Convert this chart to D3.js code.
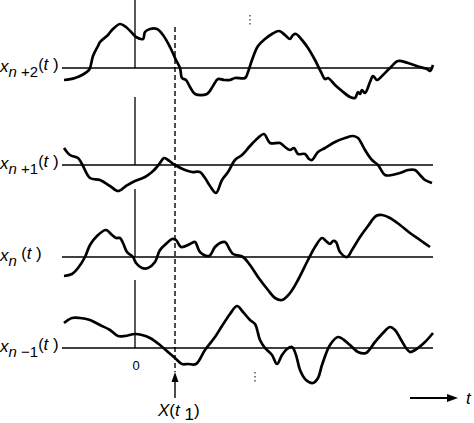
<!DOCTYPE html>
<html><head><meta charset="utf-8">
<script src="https://cdn.jsdelivr.net/npm/d3@7"></script>
<style>body{margin:0;background:#fff}</style></head>
<body><svg width="474" height="423"></svg>
<script>
// series: [t, value] (t in time units, value = amplitude)
const s_np2=[[64,-12],[75,-10],[88,-3],[90,0],[93,12],[98,22],[100,26],[108,33],[112,38],[120,44],[126,41],[133,34],[136,31],[143,29],[145,36],[150,39],[157,39],[163,33],[170,21],[176,8],[180,0],[182,-10],[186,-12],[190,-19],[195,-26],[207,-26],[213,-18],[218,-11],[224,-12],[230,-12],[235,-10],[245,-10],[248,-4],[252,8],[258,22],[265,29],[272,34],[279,37],[285,33],[290,29],[293,33],[296,34],[302,28],[308,20],[315,8],[321,-4],[325,-11],[328,-10],[335,-17],[342,-23],[350,-29],[355,-30],[358,-24],[360,-26],[362,-22],[365,-25],[370,-14],[373,-8],[377,-12],[382,-8],[390,0],[398,7],[408,5],[420,1],[427,-1],[430,-3],[433,3]];
const s_np1=[[64,17],[70,10],[78,7],[82,1],[90,-13],[100,-15],[110,-21],[118,-26],[126,-21],[135,-16],[145,-12],[152,-7],[156,-3],[160,2],[164,7],[168,5],[175,0],[185,-5],[192,-7],[200,-7],[205,-13],[210,-21],[216,-28],[222,-15],[228,-7],[235,5],[242,10],[250,19],[258,27],[264,31],[270,22],[280,22],[285,18],[290,15],[294,17],[298,11],[305,11],[309,6],[312,5],[318,13],[325,17],[335,23],[345,27],[353,29],[358,27],[365,15],[372,5],[378,0],[385,-10],[392,-10],[400,-8],[408,-5],[415,-5],[420,-10],[425,-15],[432,-18]];
const s_n=[[64,-19],[72,-17],[78,-11],[85,0],[90,12],[97,21],[106,27],[112,22],[116,19],[120,19],[123,14],[127,5],[133,0],[136,-6],[142,-11],[148,-11],[155,-5],[160,7],[167,14],[172,18],[176,17],[181,10],[190,13],[195,15],[200,5],[209,1],[215,10],[220,14],[225,15],[230,7],[233,3],[243,0],[250,-8],[258,-20],[268,-33],[275,-41],[282,-43],[290,-36],[298,-23],[308,-3],[315,10],[322,19],[326,16],[330,13],[333,16],[336,15],[340,5],[347,0],[352,7],[360,20],[368,31],[376,41],[382,42],[390,39],[400,32],[410,24],[420,17],[430,10]];
const s_nm1=[[64,25],[72,30],[80,30],[90,28],[100,23],[110,18],[118,12],[125,12],[135,14],[142,13],[150,10],[160,3],[168,-4],[175,-10],[182,-16],[188,-16],[196,-16],[205,-2],[215,11],[222,22],[230,34],[237,42],[243,36],[250,28],[255,24],[260,8],[265,0],[272,-7],[277,-16],[282,-7],[287,-1],[292,1],[296,-7],[300,-22],[306,-32],[313,-35],[318,-30],[322,-17],[330,3],[338,11],[344,8],[350,3],[358,-4],[366,-5],[375,6],[383,15],[390,21],[395,18],[400,10],[406,0],[410,-4],[415,-2],[425,6],[433,15]];
const subs=[" +2"," +1",""," −1"];
const baselines=[68,165,257,348];
const seriesList=[s_np2,s_np1,s_n,s_nm1];

const svg=d3.select("svg");
const x=d3.scaleLinear().domain([0,474]).range([0,474]);
const line=d3.line().x(d=>x(d[0])).curve(d3.curveCatmullRom.alpha(0.5));
const font="Liberation Sans, Arial, sans-serif";

seriesList.forEach((s,i)=>{
  const b=baselines[i];
  const y=d3.scaleLinear().domain([-100,100]).range([b+100,b-100]);
  svg.append("line").attr("x1",x(62)).attr("x2",x(433)).attr("y1",b).attr("y2",b).attr("stroke","#000").attr("stroke-width",1.3);
  svg.append("line").attr("x1",x(135)).attr("x2",x(135)).attr("y1",i==0?0:b-68).attr("y2",b).attr("stroke","#000").attr("stroke-width",1.3);
  svg.append("path").datum(s).attr("d",line.y(d=>y(d[1]))).attr("fill","none").attr("stroke","#000").attr("stroke-width",2.7).attr("stroke-linejoin","round");
  const t=svg.append("text").attr("x",0).attr("y",b+4).attr("font-family",font).attr("font-size",17);
  t.append("tspan").attr("font-style","italic").text("x");
  t.append("tspan").attr("font-style","italic").attr("font-size",15).attr("dy",5).text("n");
  t.append("tspan").attr("font-size",15).text(subs[i]);
  t.append("tspan").attr("dy",-7).attr("font-size",16).text(i==2?" (":"(");
  t.append("tspan").attr("font-style","italic").text("t ");
  t.append("tspan").text(")");
});
// dashed line at t1
svg.append("line").attr("x1",x(175)).attr("x2",x(175)).attr("y1",27).attr("y2",372).attr("stroke","#000").attr("stroke-width",1.4).attr("stroke-dasharray","5,3");
svg.append("line").attr("x1",x(175)).attr("x2",x(175)).attr("y1",398).attr("y2",380).attr("stroke","#000").attr("stroke-width",1.4);
svg.append("path").attr("d",`M${x(175)},372 l-3.5,10 h7 z`).attr("fill","#000");
svg.append("text").attr("x",136).attr("y",370).attr("text-anchor","middle").attr("font-family",font).attr("font-size",13).text("0");
const xt=svg.append("text").attr("x",158).attr("y",416).attr("font-family",font).attr("font-size",17);
xt.append("tspan").attr("font-style","italic").text("X");
xt.append("tspan").text("(");
xt.append("tspan").attr("font-style","italic").text("t");
xt.append("tspan").attr("dy",4).text(" 1");
xt.append("tspan").attr("dy",-4).text(")");
// vertical ellipses
svg.append("line").attr("x1",250).attr("x2",250).attr("y1",15).attr("y2",27).attr("stroke","#000").attr("stroke-dasharray","1.5,2.5");
svg.append("line").attr("x1",255).attr("x2",255).attr("y1",372).attr("y2",383).attr("stroke","#000").attr("stroke-dasharray","1.5,2.5");
// t arrow
svg.append("line").attr("x1",410).attr("x2",450).attr("y1",398).attr("y2",398).attr("stroke","#000").attr("stroke-width",2);
svg.append("path").attr("d","M458,398 l-11,-4 v8 z").attr("fill","#000");
svg.append("text").attr("x",466).attr("y",404).attr("font-family",font).attr("font-style","italic").attr("font-size",17).text("t");
</script></body></html>
